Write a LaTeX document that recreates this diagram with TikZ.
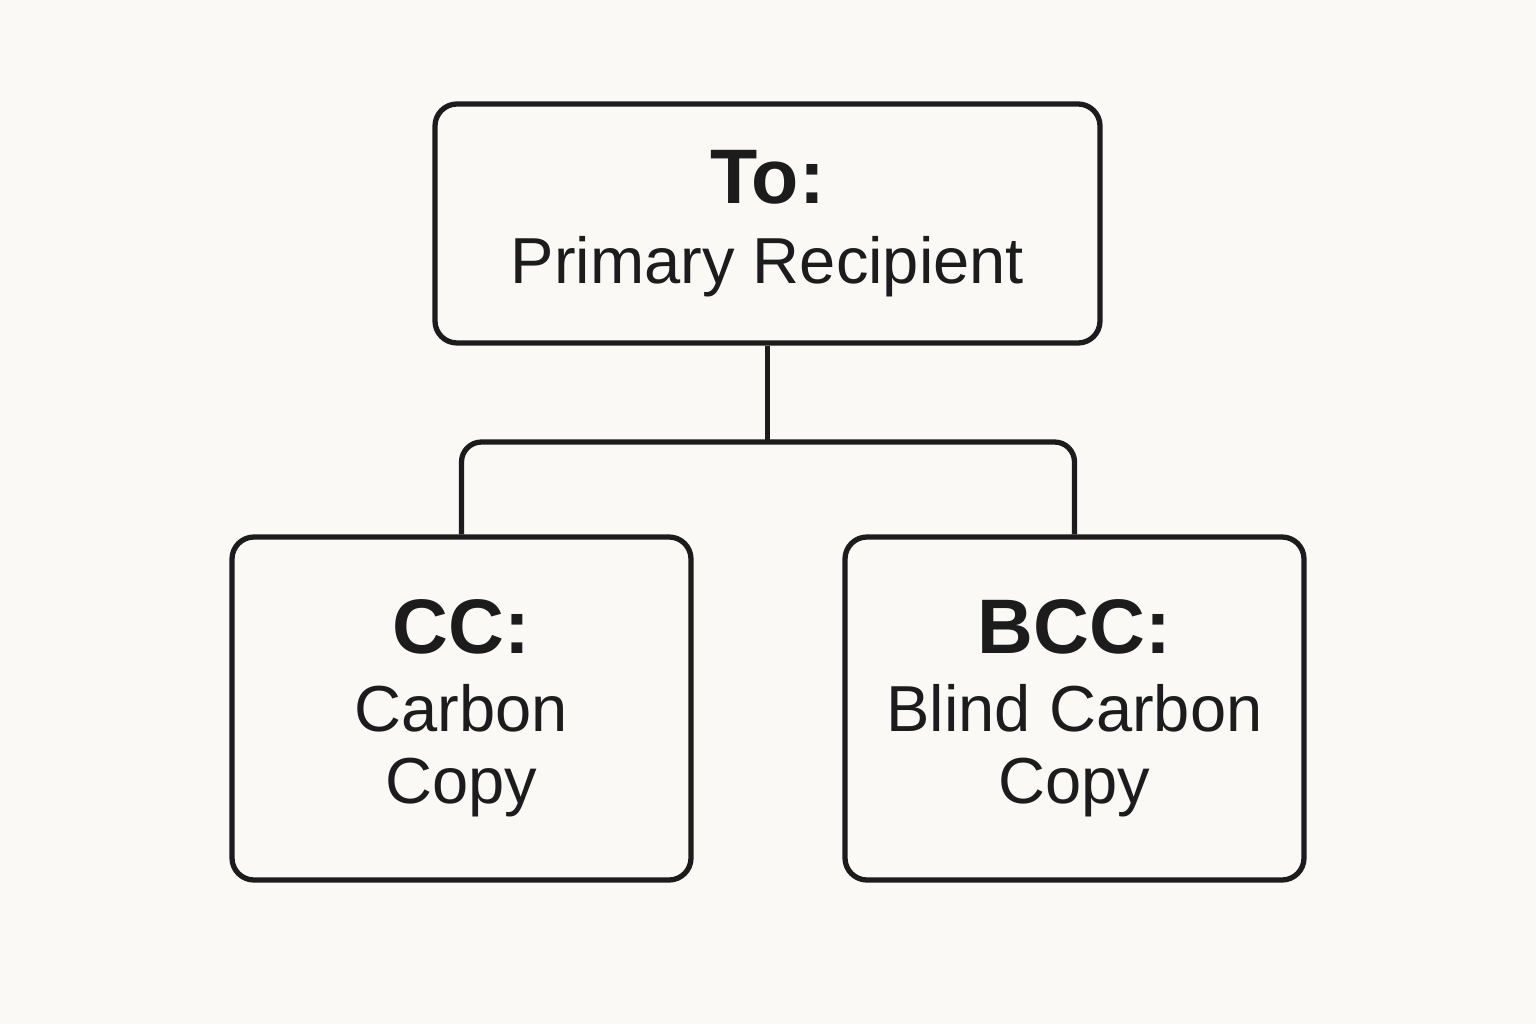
\documentclass[tikz,border=0pt]{standalone}
\usepackage{fontspec}
\setmainfont{Liberation Sans}
\usetikzlibrary{positioning,calc}
\definecolor{bgpaper}{HTML}{FAF9F6}
\definecolor{ink}{HTML}{1C1C1C}
\tikzset{
    field/.style ={rectangle, draw=ink, line width=1.5pt, rounded corners=0.22cm, align=center, text=ink, inner sep=0pt,
        font=\fontsize{18.5}{21}\selectfont},
    wire/.style = {draw=ink, line width=1.5pt, rounded corners=0.2cm}
}
\newcommand{\heading}[1]{{\fontsize{22}{21}\selectfont\bfseries #1}}

\begin{document}
\begin{tikzpicture}
	\fill[bgpaper] (0,0) rectangle (15.36,10.24);
	\useasboundingbox (0,0) rectangle (15.36,10.24);
	\node[field, minimum width=6.65cm, minimum height=2.39cm] (to) at (7.675,8.005)
		{\heading{To:}\\[0.06cm]Primary Recipient};
	\node[field, minimum width=4.59cm, minimum height=3.43cm] (cc) at (4.615,3.155)
		{\heading{CC:}\\[0.04cm]Carbon\\[-0.02cm]Copy};
	\node[field, minimum width=4.59cm, minimum height=3.43cm] (bcc) at (10.745,3.155)
		{\heading{BCC:}\\[0.04cm]Blind Carbon\\[-0.02cm]Copy};
	\coordinate (split) at (7.675,5.82);

	\draw[wire] (to.south) -- (split);
	\draw[wire] (cc.north) |- (split) -| (bcc.north);
\end{tikzpicture}
\end{document}
